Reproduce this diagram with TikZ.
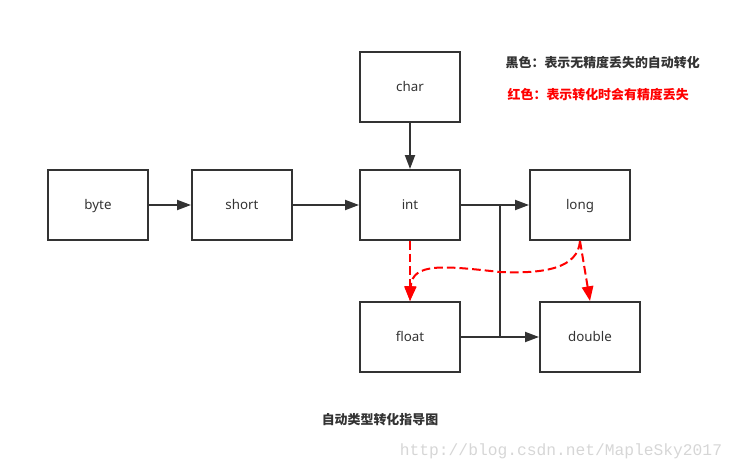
\documentclass[tikz,border=0pt]{standalone}
\usepackage{fontspec}
\setmainfont{Noto Sans}
\newfontfamily\cjk{Noto Sans CJK SC}
\newfontfamily\wmfont{Liberation Mono}
\usetikzlibrary{arrows.meta}
\definecolor{ink}{HTML}{333333}
\definecolor{wmgray}{HTML}{D6D6D6}
\begin{document}
\begin{tikzpicture}[x=0.75pt, y=-0.75pt,
    box/.style={rectangle, draw=ink, line width=1.5pt, minimum width=75pt, minimum height=52.5pt, text=ink, text height=1.6ex, text depth=0.4ex, font=\fontsize{10}{12}\selectfont},
    edge/.style={ink, line width=1.5pt, -{Triangle[length=10.5pt, width=7.5pt]}},
    lossy/.style={red, line width=1.5pt, dash pattern=on 6.5pt off 3pt, -{Triangle[length=11pt, width=8.5pt]}},
    note/.style={font=\cjk\bfseries\fontsize{9.7}{11}\selectfont}]
            \useasboundingbox (0,0) rectangle (743,471);
            % Nodes
            \node[box] (byte) at (98,205) {byte};
            \node[box] (short) at (242,205) {short};
            \node[box] (int) at (410,205) {int};
            \node[box] (char) at (410,87) {char};
            \node[box] (long) at (580,205) {long};
            \node[box] (float) at (410,337) {float};
            \node[box] (double) at (590,337) {double};
            \coordinate (j1) at (500,205);
            \coordinate (j2) at (500,337);

            % Legend and caption
            \node[note, text=ink, anchor=west] (black) at (501,63) {黑色：表示无精度丢失的自动转化};
            \node[note, text=red, anchor=west] (red) at (503,95) {红色：表示转化时会有精度丢失};
            \node[note, text=ink] (title) at (380,420) {自动类型转化指导图};
            \node[text=wmgray, font=\wmfont\fontsize{12.2}{14}\selectfont] (mark) at (561,451) {http://blog.csdn.net/MapleSky2017};

            % Edges
            \draw[edge] (byte) -- (short);
            \draw[edge] (short) -- (int);
            \draw[edge] (char) -- (int);
            \draw[edge] (int) -- (long);
            \draw[edge] (float) -- (double);
            \draw[ink, line width=1.5pt] (j1) -- (j2);

            % lossy
            \draw[lossy] (int) -- (float);
            \draw[lossy] (long.south) -- (double.north);
            \draw[lossy] (long.south) .. controls (578,268) and (545,274) .. (500,272) .. controls (445,266) and (412,262) .. (float.north);
        \end{tikzpicture}
\end{document}
